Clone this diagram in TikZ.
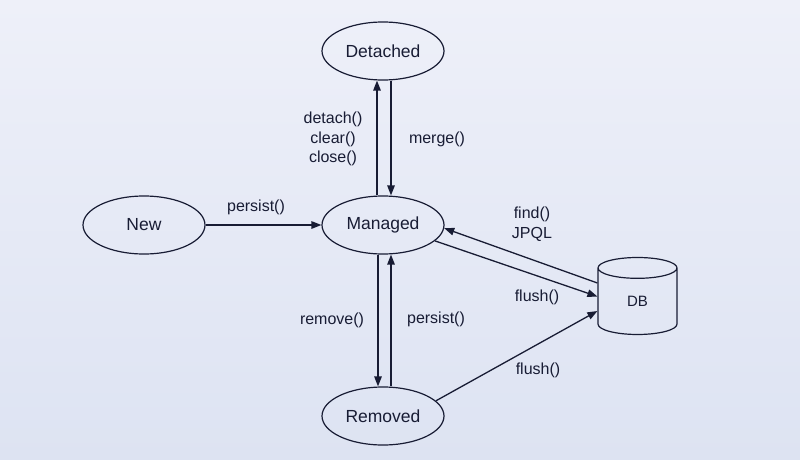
\documentclass[tikz,border=0pt]{standalone}
\usepackage{fontspec}
\setmainfont{Liberation Sans}
\usetikzlibrary{arrows.meta,shapes.geometric}
\definecolor{bgtop}{RGB}{238,240,249}
\definecolor{bgbot}{RGB}{221,227,242}
\definecolor{ink}{RGB}{24,28,52}
\tikzset{
  state/.style={ellipse,draw=ink,line width=1.2pt,minimum width=122pt,minimum height=58pt,inner sep=0pt,text=ink,font=\fontsize{17.5}{20}\selectfont},
  conn/.style={draw=ink,line width=1.3pt,-{Triangle[length=10pt,width=7.5pt]}},
  lbl/.style={text=ink,font=\fontsize{16}{19.5}\selectfont,align=center,inner sep=0pt}
}
\begin{document}
\begin{tikzpicture}[x=1pt,y=-1pt]
\shade[top color=bgtop,bottom color=bgbot] (0,0) rectangle (800,460);
\useasboundingbox (0,0) rectangle (800,460);
\node[state] (det) at (383,51) {Detached};
\node[state] (man) at (383,225) {Managed};
\node[state] (new) at (144,225) {New};
\node[state] (rem) at (383,416) {Removed};
\node[cylinder,shape border rotate=90,aspect=1,draw=ink,line width=1.2pt,minimum width=79pt,minimum height=77pt,inner sep=0pt,text=ink,font=\fontsize{15}{18}\selectfont] (db) at (637.5,301.5) {DB};
\draw[conn] (new) -- (man);
\draw[conn] ([xshift=-6pt]man.north) -- ([xshift=-6pt]det.south);
\draw[conn] ([xshift=8pt]det.south) -- ([xshift=8pt]man.north);
\draw[conn] ([xshift=-5pt]man.south) -- ([xshift=-5pt]rem.north);
\draw[conn] ([xshift=8pt]rem.north) -- ([xshift=8pt]man.south);
\draw[conn] ([yshift=18.5pt]db.west) -- (man.-3);
\draw[conn] (man.-17.5) -- ([yshift=5pt]db.west);
\draw[conn] (rem.16.5) -- ([yshift=-9.5pt]db.west);
\node[lbl] (l1) at (256,207) {persist()};
\node[lbl] (l2) at (333,139) {detach()\\clear()\\close()};
\node[lbl] (l3) at (437,139) {merge()};
\node[lbl] (l4) at (332,320) {remove()};
\node[lbl] (l5) at (436,319) {persist()};
\node[lbl] (l6) at (532,224) {find()\\JPQL};
\node[lbl] (l7) at (537,297) {flush()};
\node[lbl] (l8) at (538,370) {flush()};
\end{tikzpicture}
\end{document}
